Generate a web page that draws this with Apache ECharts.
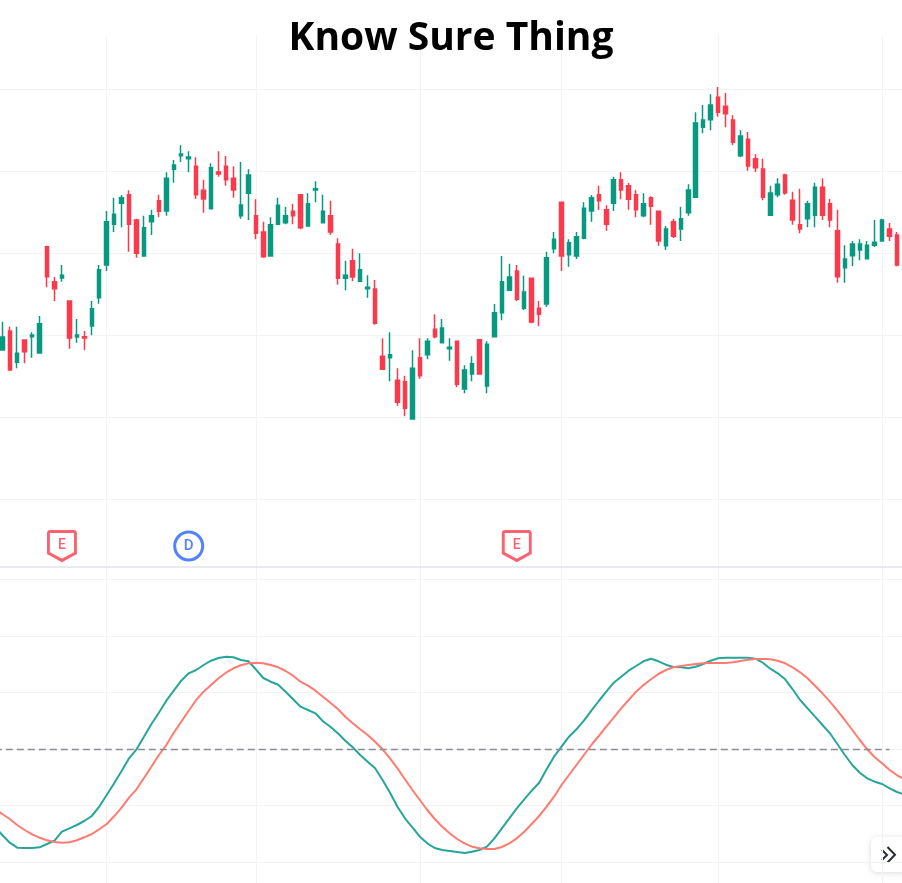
<!DOCTYPE html>
<html>
<head>
<meta charset="utf-8">
<title>Know Sure Thing</title>
<script src="https://cdn.jsdelivr.net/npm/echarts@6/dist/echarts.min.js"></script>
<style>
html, body { margin: 0; padding: 0; background: #fff; }
#main { width: 902px; height: 883px; }
</style>
</head>
<body>
<div id="main"></div>
<script>
// 蜡烛数据 [open, close, low, high]，无坐标轴标签，单位按图上比例估读
var candles = [
    [231,244,231,259.3],[250,211,210.3,254.3],[218.7,227.7,212.7,254.3],[241,229.3,217.7,241],[244.3,246,223.3,248.7],
    [228,257.3,228,265],[334.3,304.3,293.7,335.3],[299.3,292.3,280,304],[303,305.7,299.3,316],[280,243,232.3,280],
    [244,246,238.3,262],[244.3,243,230.7,250],[255,272.3,245.7,280],[283.3,311.3,277.3,316],[316,359.3,310,370],
    [356.7,366.7,349,383.3],[377.7,383.3,353.7,386],[386.3,356.7,329.3,390.7],[361,327.7,323.3,362.3],[325,353.3,325,365.3],
    [359.3,365.3,346,371.3],[380.3,369.7,363.7,386.3],[370,402.7,365.3,408.7],[411.7,416,398.3,421],[425.3,427,419,435.7],
    [422.3,424,408.7,429.7],[414.7,386.3,382,423.7],[390.7,382,368.3,401.3],[372.3,413.3,371.7,417.7],[409,407,404.3,429.7],
    [414.7,401.3,395.3,425],[402.7,391,383.3,414.7],[365.3,376,362.3,419],[387.7,406,361,411.7],[365.3,347.7,341.7,381.7],
    [349,324.3,323.3,359.3],[325,356.3,325,363.7],[356.7,375.7,356.7,383.3],[358.3,365.3,356.7,374.3],[369.7,365.3,356.7,377.3],
    [386.3,353.3,351.7,386.3],[355,377.3,355,387.7],[391,392.3,378.7,399.7],[358.3,369.7,358.3,386.3],[365.3,349,346,380.3],
    [337,302.7,296.3,342.7],[302.7,305.7,290.7,320.3],[320.3,304,299.7,332.3],[299.7,311.3,299.7,327.7],[292.3,293.7,283.3,305.7],
    [292,257.7,256.3,301],[224.7,211.7,211.7,242.7],[223.3,226.3,199.7,248.7],[200.7,178.7,175.3,212.7],[199.3,172.7,164.7,205.3],
    [162,212.7,162,230.7],[223.3,205.3,202.3,242.7],[226.3,239.7,221.7,242.7],[251.7,244.3,242.7,266.7],[238.3,253,238.3,262],
    [232.3,233.7,220.3,242.7],[239.7,196.7,193.7,239.7],[192,211,187.7,215.7],[207,217.3,199.7,224.7],[241.3,207,207,241.3],
    [195,236.7,187.7,239.7],[244.3,268.3,244.3,277],[268.3,299.3,260.7,325],[290.7,304,290.7,317.3],[310,281.7,280,316],
    [272.7,289,271,305.3],[302.7,259,257.7,302.7],[272.7,266.7,254.7,280],[277,323.3,274,329.3],[332.3,341.7,327.7,349],
    [378.7,325,310,378.7],[326.3,338.3,314.3,341.7],[325,344.3,322,349],[342.7,372.7,341.7,378.7],[370,383.3,359.3,386],
    [386.3,380.3,371,395.3],[371.3,356.7,350.3,375.7],[377.7,401.3,370,404.3],[401.3,391,381.7,408.7],[395.3,381.7,371.3,398],
    [386.3,371.3,363.7,390.7],[365.3,377.3,363.7,387.7],[383.3,374.7,356.3,384.7],[369.7,340,335.3,369.7],[335.3,352,331,355],
    [359.3,344.7,343,362.3],[352,362.3,340,374.3],[368.3,391,365.3,396.7],[383.7,458,383.7,468.7],[453.7,461,447.7,476],
    [461.3,476,450.7,486.7],[483.7,468.7,464.3,494],[474.7,467.3,453.7,488],[461,438.7,435.7,465.7],[425.3,445,424,450.7],
    [441.7,415,410.3,449],[422.3,413.3,409,426.7],[412,383.7,380.7,422.3],[365.7,388,365.7,395.3],[386.3,396.7,383.7,402.7],
    [406,388,386.3,407.3],[380.7,361,356.3,389.3],[356.3,352,347.7,392.3],[362.3,377.3,353.7,380.3],[365.7,393.7,353.7,398.3],
    [393.7,365.7,361,402.7],[377.3,361,353.7,382],[350.3,304.3,298.3,371.3],[313.3,322,298.3,335.7],[325.3,337,315,340],
    [331,337,320.7,341.7],[322.3,335.7,322.3,340],[335.7,338.7,334,361],[340,361,340,362.3],[352,344.7,340,358],
    [346,316,314.7,349]
];

// KST 主线（含左右各一个画面外的点）
var kstValues = [
    -78,-86,-93.7,-98.7,-99,-99,-98.3,-95,-91.7,-82.7,-79.3,-76,-72,-67,-57.7,-46,-34.3,-22,-9.3,-0.3,
    12.3,25,36.3,48.3,58.3,68.3,75.7,79,84,88.3,91,92.3,91.7,89,87.7,79.7,71,67.3,64.3,57.3,
    49.7,42.3,39,35.7,27.7,22.3,15.7,8.3,1.7,-6,-12.7,-19.3,-31,-43.7,-57.7,-69.3,-78.3,-87.7,-94.3,-99,
    -101,-102,-103,-104,-102.7,-101,-97.7,-89.3,-79.3,-69.3,-59.3,-50.3,-41.7,-33.7,-20.3,-7.7,2.3,12.3,19.7,28.3,
    38.3,48,57.3,66.3,72.3,78.3,83,87.7,90.3,87.7,84.3,82,81.7,80.7,82.3,85,88.3,90.7,91.3,91.3,
    91.3,91.3,90.3,86.3,80.3,75.7,69.7,59.7,49,40.7,32.3,24,15.7,5,-6,-16,-23.7,-29.3,-32.7,-35,
    -39.3,-43,-45.7
];

// 信号线
var signalValues = [
    -60,-65,-70,-76,-81,-85.3,-88.7,-91.3,-93,-93.7,-93.3,-91.3,-88.3,-85,-80.3,-75,-67.3,-58.7,-48.7,-40.3,
    -29,-17.7,-6,4,16.3,27.3,38.3,49,57.3,64,70.7,76.3,80.7,83.7,85.7,86.3,85.7,84,81.7,78,
    73.3,67.3,63.3,58.3,52.3,46.3,40,32.3,25.7,19.7,14,7.3,-0.3,-9.3,-19.3,-30.3,-41,-51,-61,-70,
    -77.7,-84.3,-90,-94.3,-97.7,-99.3,-100,-100,-98,-94.3,-89.3,-82.7,-75,-67,-57.7,-47.7,-36,-26,-16,-6,
    4,13,22.3,31.3,40.7,49,57.3,64,69.7,75,79,81.7,83,84,85,85.7,86,86,86,86.7,
    88,89.3,90,90,89.7,88.3,85.7,81.7,76.7,70.7,63.3,55.7,47.3,38.3,29,19,9,-0.3,-8.3,-14.3,
    -21,-26.3,-30.3
];

// 月份分隔线所在的K线序号
var monthStarts = [14, 34, 56, 75, 96, 118];
// 事件标记所在的K线序号
var earningsAt = [8, 69];
var dividendsAt = [25];
var eventLevel = 35;

var upColor = '#089981';
var downColor = '#fb3a4c';
var gridColor = '#f1f3f6';

// 左右各留一格，让图形延伸到画面边缘
var categories = [];
for (var i = -1; i <= candles.length; i++) {
    categories.push(String(i));
}

function xAxisFor(gridIndex, extra) {
    var axis = {
        type: 'category',
        gridIndex: gridIndex,
        data: categories,
        boundaryGap: false,
        axisLine: {show: false},
        axisTick: {show: false},
        axisLabel: {show: false},
        splitLine: {
            show: true,
            interval: function (index) {
                return monthStarts.indexOf(index - 1) >= 0;
            },
            lineStyle: {color: gridColor, width: 1}
        }
    };
    return Object.assign(axis, extra);
}

function eventPoints(list) {
    return list.map(function (k) {
        return [k + 1, eventLevel];
    });
}

var myChart = echarts.init(document.getElementById('main'));

var option = {
    animation: false,
    backgroundColor: '#fff',
    title: {
        text: 'Know Sure Thing',
        left: 'center',
        top: 14,
        textStyle: {
            color: '#000',
            fontFamily: '"Open Sans"',
            fontWeight: 700,
            fontSize: 39
        }
    },
    grid: [
        {left: -5.16, width: 909.66, top: 35, height: 546, outerBoundsMode: 'none'},
        {left: -5.16, width: 909.66, top: 567, height: 351.5, outerBoundsMode: 'none'}
    ],
    xAxis: [
        xAxisFor(0),
        xAxisFor(1, {
            position: 'top',
            axisLine: {show: true, onZero: false, lineStyle: {color: '#e0e3eb', width: 1.5}}
        })
    ],
    yAxis: [
        {
            type: 'value',
            gridIndex: 0,
            min: 0,
            max: 546,
            interval: 82,
            axisLine: {show: false},
            axisTick: {show: false},
            axisLabel: {show: false},
            splitLine: {showMinLine: false, showMaxLine: false, lineStyle: {color: gridColor, width: 1}}
        },
        {
            type: 'value',
            gridIndex: 1,
            min: -169.5,
            max: 182,
            interval: 56.5,
            axisLine: {show: false},
            axisTick: {show: false},
            axisLabel: {show: false},
            splitLine: {showMinLine: false, showMaxLine: false, lineStyle: {color: gridColor, width: 1}}
        }
    ],
    series: [
        {
            name: 'Price',
            type: 'candlestick',
            xAxisIndex: 0,
            yAxisIndex: 0,
            barWidth: 4,
            encode: {x: 0, y: [1, 2, 3, 4]},
            itemStyle: {
                color: upColor,
                color0: downColor,
                borderColor: upColor,
                borderColor0: downColor,
                borderWidth: 1.5
            },
            data: candles.map(function (c, k) {
                return [k + 1, c[0], c[1], c[2], c[3]];
            })
        },
        {
            name: 'Earnings',
            type: 'scatter',
            xAxisIndex: 0,
            yAxisIndex: 0,
            symbol: 'path://M2 0H28Q30 0 30 2V23L15 31L0 23V2Q0 0 2 0Z',
            symbolSize: [27, 29],
            itemStyle: {color: '#fff', borderColor: downColor, borderWidth: 3},
            label: {
                show: true,
                position: 'inside',
                formatter: 'E',
                color: downColor,
                fontFamily: 'Roboto',
                fontWeight: 500,
                fontSize: 14,
                offset: [0, -1]
            },
            data: eventPoints(earningsAt)
        },
        {
            name: 'Dividends',
            type: 'scatter',
            xAxisIndex: 0,
            yAxisIndex: 0,
            symbol: 'circle',
            symbolSize: 28,
            itemStyle: {color: '#fff', borderColor: '#2962ff', borderWidth: 3},
            label: {
                show: true,
                position: 'inside',
                formatter: 'D',
                color: '#2962ff',
                fontFamily: 'Roboto',
                fontWeight: 500,
                fontSize: 15
            },
            data: eventPoints(dividendsAt)
        },
        {
            name: 'KST',
            type: 'line',
            xAxisIndex: 1,
            yAxisIndex: 1,
            showSymbol: false,
            lineStyle: {color: '#26a69a', width: 2},
            data: kstValues,
            markLine: {
                silent: true,
                symbol: 'none',
                label: {show: false},
                lineStyle: {color: '#8a8d97', type: [7, 4], width: 1.3},
                data: [[{xAxis: 0, yAxis: 0}, {xAxis: 120, yAxis: 0}]]
            }
        },
        {
            name: 'Signal',
            type: 'line',
            xAxisIndex: 1,
            yAxisIndex: 1,
            showSymbol: false,
            lineStyle: {color: '#ff7a70', width: 2},
            data: signalValues
        }
    ],
    // 右下角滚动按钮
    graphic: [
        {
            type: 'rect',
            shape: {x: 871, y: 837, width: 40, height: 35, r: 6},
            style: {fill: '#fff', shadowBlur: 6, shadowColor: 'rgba(0,0,0,0.14)', shadowOffsetY: 1}
        },
        {
            type: 'polyline',
            shape: {points: [[882, 850], [887, 855], [882, 860]]},
            style: {fill: null, stroke: '#2a2e39', lineWidth: 2}
        },
        {
            type: 'polyline',
            shape: {points: [[887.5, 847], [895, 854.7], [887.5, 862.5]]},
            style: {fill: null, stroke: '#2a2e39', lineWidth: 2}
        }
    ]
};

myChart.setOption(option);
</script>
</body>
</html>
